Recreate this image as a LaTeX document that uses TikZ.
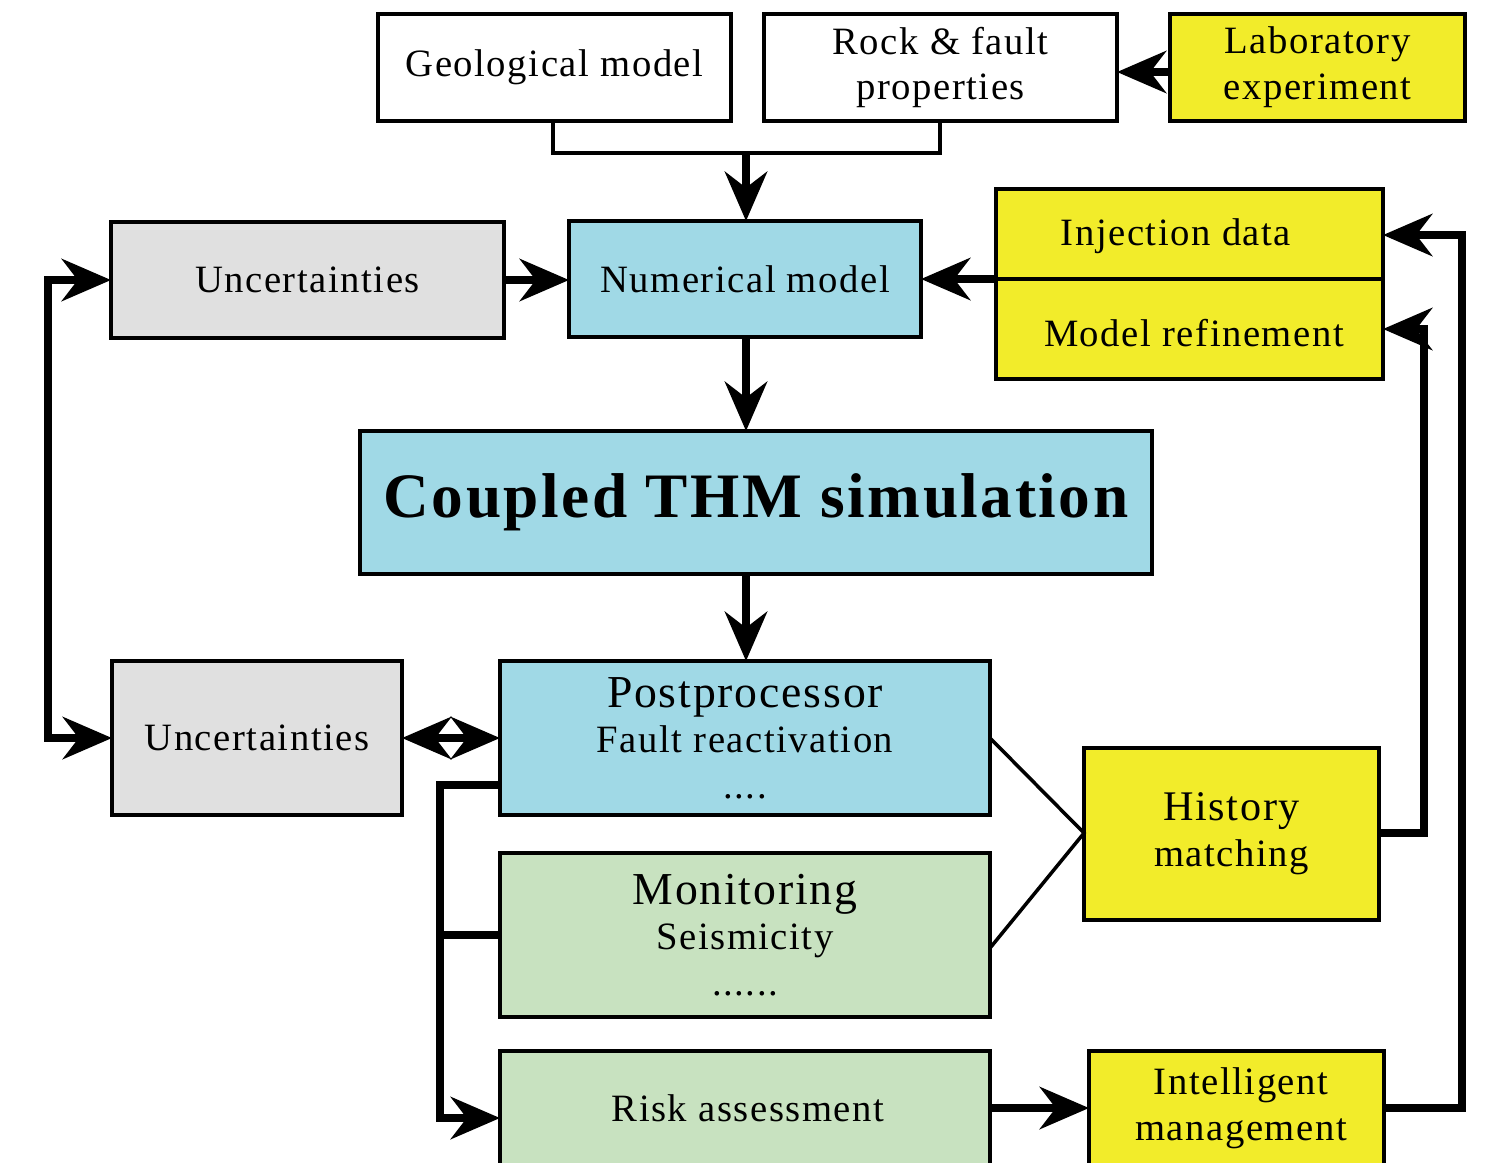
\documentclass[tikz,border=0pt]{standalone}
\usepackage{fontspec}
\setmainfont{Liberation Serif}[LetterSpace=4]
\usetikzlibrary{arrows.meta}
\definecolor{yel}{HTML}{F2EC2A}
\definecolor{blu}{HTML}{A0D9E6}
\definecolor{gry}{HTML}{E0E0E0}
\definecolor{grn}{HTML}{C8E2C0}
\begin{document}
\begin{tikzpicture}[x=0.01cm,y=-0.01cm,
  box/.style={draw,line width=1pt,align=center,font=\fontsize{11}{13}\selectfont},
  conn/.style={line width=2.2pt,-{Stealth[length=14pt,width=12pt]}},
  thinl/.style={line width=1pt}]
\useasboundingbox (0,0) rectangle (1501,1162);
\clip (0,0) rectangle (1501,1162);
% top row
\draw[box,fill=white] (378,14) rectangle (731,121) node[midway] (geo) {Geological model};
\draw[box,fill=white] (764,14) rectangle (1117,121) node[midway] (rock) {Rock \& fault\\properties};
\draw[box,fill=yel] (1170,14) rectangle (1465,121) node[midway] (lab) {Laboratory\\experiment};
\coordinate (labw) at (1170,72); \coordinate (rocke) at (1117,72);
\draw[conn] (labw) -- (rocke);
\draw[thinl] (553,121) -- (553,153) -- (940,153) -- (940,121);
\coordinate (brk) at (746,153); \coordinate (numn) at (746,221);
\draw[conn] (brk) -- (numn);
% second row
\draw[box,fill=gry] (111,222) rectangle (504,338) node[midway] (unc1) {Uncertainties};
\draw[box,fill=blu] (569,221) rectangle (921,337) node[midway] (num) {Numerical model};
\draw[box,fill=yel] (996,189) rectangle (1383,379);
\draw[thinl] (996,279) -- (1383,279);
\node[font=\fontsize{11}{13}\selectfont] (inj) at (1176,236) {Injection data};
\node[font=\fontsize{11}{13}\selectfont] (ref) at (1194,333) {Model refinement};
\draw[conn] (504,280) -- (569,280);
\draw[conn] (996,279) -- (921,279);
\draw[conn] (746,337) -- (746,431);
% coupled
\draw[box,fill=blu] (360,431) rectangle (1152,574) node[midway] (thm) {\fontsize{18}{20}\selectfont\bfseries Coupled THM simulation};
\draw[conn] (746,574) -- (746,661);
% lower
\draw[box,fill=gry] (112,661) rectangle (402,815) node[midway] (unc2) {Uncertainties};
\draw[box,fill=blu] (500,661) rectangle (990,815) node[midway] (post) {\fontsize{13}{15}\selectfont Postprocessor\\Fault reactivation\\....};
\draw[box,fill=grn] (500,853) rectangle (990,1017) node[midway] (mon) {\fontsize{13}{15}\selectfont Monitoring\\Seismicity\\......};
\draw[box,fill=grn] (500,1051) rectangle (990,1175);
\node[font=\fontsize{11}{13}\selectfont] (risk) at (748,1108) {Risk assessment};
\draw[box,fill=yel] (1084,748) rectangle (1379,920) node[midway] (hist) {\fontsize{12}{14}\selectfont History\\matching};
\draw[box,fill=yel] (1089,1051) rectangle (1384,1175);
\node[font=\fontsize{11}{13}\selectfont,align=center] (intl) at (1241,1108) {Intelligent\\management};
% left loop
\draw[line width=2.2pt,{Stealth[length=14pt,width=12pt]}-{Stealth[length=14pt,width=12pt]}] (111,280) -- (48,280) -- (48,738) -- (112,738);
\draw[line width=2.2pt,{Stealth[length=14pt,width=12pt]}-{Stealth[length=14pt,width=12pt]}] (402,738) -- (500,738);
\draw[conn] (500,785) -- (440,785) -- (440,1118) -- (500,1118);
\draw[line width=2.2pt] (500,935) -- (440,935);
% history links
\draw[thinl] (990,738) -- (1084,833) -- (990,948);
\draw[conn] (1379,833) -- (1424,833) -- (1424,329) -- (1383,329);
\draw[conn] (1384,1108) -- (1462,1108) -- (1462,235) -- (1383,235);
\draw[conn] (990,1108) -- (1089,1108);
\end{tikzpicture}
\end{document}
